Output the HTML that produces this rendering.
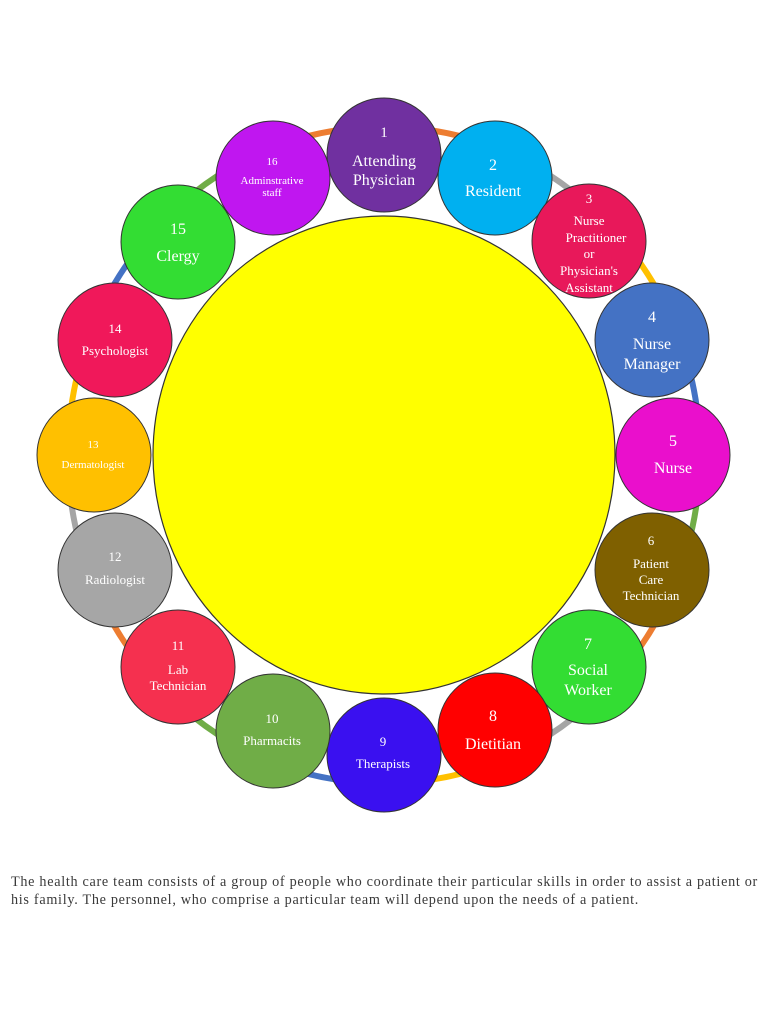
<!DOCTYPE html>
<html><head><meta charset="utf-8"><style>
html,body{margin:0;padding:0;background:#fff;width:768px;height:1024px;overflow:hidden}
svg{position:absolute;left:0;top:0}
text{font-family:"Liberation Serif","DejaVu Serif",serif;fill:#fff;text-anchor:middle}
.cap{position:absolute;left:11px;top:873px;width:752px;font-family:"Liberation Serif",serif;font-size:14.2px;letter-spacing:0.7px;line-height:18px;color:#3a3a3a;white-space:nowrap}
</style></head><body>
<svg width="768" height="1024" viewBox="0 0 768 1024">
<g fill="none" stroke-width="6">
<path d="M384,127 A316,328 0 0 1 507,152" stroke="#ed7d31"/>
<path d="M507,152 A316,328 0 0 1 607,223" stroke="#a5a5a5"/>
<path d="M607,223 A316,328 0 0 1 676,329" stroke="#ffc000"/>
<path d="M676,329 A316,328 0 0 1 700,455" stroke="#4472c4"/>
<path d="M700,455 A316,328 0 0 1 676,581" stroke="#70ad47"/>
<path d="M676,581 A316,328 0 0 1 607,687" stroke="#ed7d31"/>
<path d="M607,687 A316,328 0 0 1 507,758" stroke="#a5a5a5"/>
<path d="M507,758 A316,328 0 0 1 384,783" stroke="#ffc000"/>
<path d="M384,783 A316,328 0 0 1 261,758" stroke="#4472c4"/>
<path d="M261,758 A316,328 0 0 1 161,687" stroke="#70ad47"/>
<path d="M161,687 A316,328 0 0 1 92,581" stroke="#ed7d31"/>
<path d="M92,581 A316,328 0 0 1 68,455" stroke="#a5a5a5"/>
<path d="M68,455 A316,328 0 0 1 92,329" stroke="#ffc000"/>
<path d="M92,329 A316,328 0 0 1 161,223" stroke="#4472c4"/>
<path d="M161,223 A316,328 0 0 1 261,152" stroke="#70ad47"/>
<path d="M261,152 A316,328 0 0 1 384,127" stroke="#ed7d31"/>
</g>
<ellipse cx="384" cy="455" rx="231" ry="239" fill="#ffff00" stroke="#333" stroke-width="1.2"/>
<g stroke="#333" stroke-width="1">
<circle cx="384" cy="155" r="57" fill="#7030a0"/>
<circle cx="495" cy="178" r="57" fill="#00b0f0"/>
<circle cx="589" cy="241" r="57" fill="#e8185a"/>
<circle cx="652" cy="340" r="57" fill="#4472c4"/>
<circle cx="673" cy="455" r="57" fill="#ea0fcc"/>
<circle cx="652" cy="570" r="57" fill="#7f6000"/>
<circle cx="589" cy="667" r="57" fill="#33dd33"/>
<circle cx="495" cy="730" r="57" fill="#ff0000"/>
<circle cx="384" cy="755" r="57" fill="#3a10f0"/>
<circle cx="273" cy="731" r="57" fill="#70ad47"/>
<circle cx="178" cy="667" r="57" fill="#f5304f"/>
<circle cx="115" cy="570" r="57" fill="#a6a6a6"/>
<circle cx="94" cy="455" r="57" fill="#ffc000"/>
<circle cx="115" cy="340" r="57" fill="#f0185a"/>
<circle cx="178" cy="242" r="57" fill="#33dd33"/>
<circle cx="273" cy="178" r="57" fill="#c016f0"/>
</g>
<text font-size="15"><tspan x="384" y="137">1</tspan><tspan x="384" y="166" font-size="16">Attending</tspan><tspan x="384" y="185" font-size="16">Physician</tspan></text>
<text font-size="16"><tspan x="493" y="170">2</tspan><tspan x="493" y="196">Resident</tspan></text>
<text font-size="13"><tspan x="589" y="203">3</tspan><tspan x="589" y="225">Nurse</tspan><tspan x="596" y="242">Practitioner</tspan><tspan x="589" y="258">or</tspan><tspan x="589" y="275">Physician's</tspan><tspan x="589" y="292">Assistant</tspan></text>
<text font-size="16"><tspan x="652" y="322">4</tspan><tspan x="652" y="349">Nurse</tspan><tspan x="652" y="369">Manager</tspan></text>
<text font-size="16"><tspan x="673" y="446">5</tspan><tspan x="673" y="473">Nurse</tspan></text>
<text font-size="13"><tspan x="651" y="545">6</tspan><tspan x="651" y="568">Patient</tspan><tspan x="651" y="584">Care</tspan><tspan x="651" y="600">Technician</tspan></text>
<text font-size="16"><tspan x="588" y="649">7</tspan><tspan x="588" y="675">Social</tspan><tspan x="588" y="695">Worker</tspan></text>
<text font-size="16"><tspan x="493" y="721">8</tspan><tspan x="493" y="749">Dietitian</tspan></text>
<text font-size="13"><tspan x="383" y="746">9</tspan><tspan x="383" y="768">Therapists</tspan></text>
<text font-size="13"><tspan x="272" y="723">10</tspan><tspan x="272" y="745">Pharmacits</tspan></text>
<text font-size="13"><tspan x="178" y="650">11</tspan><tspan x="178" y="674">Lab</tspan><tspan x="178" y="690">Technician</tspan></text>
<text font-size="13"><tspan x="115" y="561">12</tspan><tspan x="115" y="584">Radiologist</tspan></text>
<text font-size="11"><tspan x="93" y="448">13</tspan><tspan x="93" y="468">Dermatologist</tspan></text>
<text font-size="13"><tspan x="115" y="333">14</tspan><tspan x="115" y="355">Psychologist</tspan></text>
<text font-size="16"><tspan x="178" y="234">15</tspan><tspan x="178" y="261">Clergy</tspan></text>
<text font-size="11"><tspan x="272" y="165">16</tspan><tspan x="272" y="184">Adminstrative</tspan><tspan x="272" y="196">staff</tspan></text>
</svg>
<div class="cap">The health care team consists of a group of people who coordinate their particular skills in order to assist a patient or<br>his family. The personnel, who comprise a particular team will depend upon the needs of a patient.</div>
</body></html>
